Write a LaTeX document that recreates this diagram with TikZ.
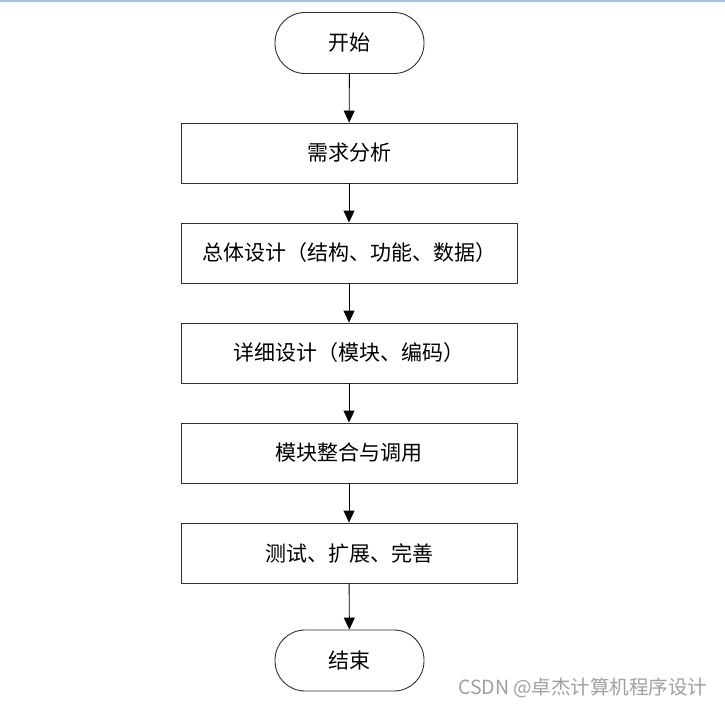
\documentclass[tikz,border=0pt]{standalone}
\usepackage{fontspec}
\newfontfamily\cjk{Noto Sans CJK SC}
\usetikzlibrary{arrows.meta}
\definecolor{topline}{HTML}{A3C2EA}
\definecolor{wm}{HTML}{A0A0A0}
\definecolor{edge}{HTML}{303030}
\begin{document}
\begin{tikzpicture}[x=1pt,y=-1pt,
  every node/.style={font=\cjk\fontsize{21}{24}\selectfont, text=black},
  term/.style={draw=edge, line width=0.9pt, rounded corners=30pt, minimum width=149pt, minimum height=61pt, inner sep=0pt},
  procbox/.style={draw=edge, line width=0.9pt, minimum width=336pt, minimum height=60pt, inner sep=0pt},
  flow/.style={draw=black, line width=0.9pt, -{Triangle[width=11pt,length=12pt]}}]
\useasboundingbox (0,0) rectangle (725,706);
\fill[white] (0,0) rectangle (725,706);
\fill[topline] (0,0) rectangle (725,1.8);
\node[term] (start) at (349.5,43) {开始};
\node[procbox] (b1) at (349,153) {需求分析};
\node[procbox] (b2) at (349,253) {总体设计（结构、功能、数据）};
\node[procbox] (b3) at (349,353) {详细设计（模块、编码）};
\node[procbox] (b4) at (349,453) {模块整合与调用};
\node[procbox] (b5) at (349,553) {测试、扩展、完善};
\node[term] (stop) at (349.5,660.5) {结束};
\draw[flow] (start) -- (b1);
\draw[flow] (b1) -- (b2);
\draw[flow] (b2) -- (b3);
\draw[flow] (b3) -- (b4);
\draw[flow] (b4) -- (b5);
\draw[flow] (b5) -- (stop);
\node[font=\cjk\fontsize{19.5}{22}\selectfont, text=wm, anchor=east] (wmark) at (711,688) {CSDN @卓杰计算机程序设计};
\end{tikzpicture}
\end{document}
